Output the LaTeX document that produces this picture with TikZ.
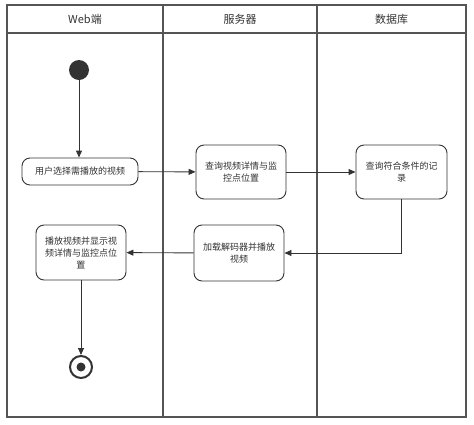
\documentclass[tikz,border=0pt]{standalone}
\usepackage{fontspec}
\usepackage{xcolor}
\usepackage{tikz}
\usetikzlibrary{arrows.meta,positioning}
\newfontfamily\cjk{Noto Sans CJK SC}
\definecolor{linegray}{HTML}{333333}
\definecolor{framegray}{HTML}{555555}

\begin{document}
\begin{tikzpicture}[x=1pt,y=-1pt,inner sep=0pt,
  act/.style={draw=linegray,line width=0.9pt,rounded corners=8pt,fill=white,align=center,
    font=\cjk\fontsize{9}{12}\selectfont,text=linegray},
  lane/.style={draw=framegray,line width=1.2pt},
  head/.style={font=\cjk\fontsize{11}{13}\selectfont,text=linegray},
  flow/.style={-{Triangle[width=6pt,length=7pt]},draw=linegray,line width=0.9pt}]
\useasboundingbox (0,0) rectangle (474,424);
% swimlanes
\draw[lane] (7,5) rectangle (466,417);
\draw[lane] (7,33) -- (466,33);
\draw[lane] (163,5) -- (163,417);
\draw[lane] (317,5) -- (317,417);
\node[head] (webhead) at (85,19) {Web端};
\node[head] (srvhead) at (240,19) {服务器};
\node[head] (dbhead) at (391.5,19) {数据库};

\node[circle,fill=linegray,minimum size=20pt] (start) at (79,70) {};
\node[act,minimum width=116pt,minimum height=27pt] (choose) at (80,171.5) {用户选择需播放的视频};
\node[act,minimum width=90pt,minimum height=54pt,text width=80pt] (query) at (241,172) {查询视频详情与监\\控点位置};
\node[act,minimum width=91pt,minimum height=54pt,text width=80pt] (record) at (401.5,172) {查询符合条件的记\\录};
\node[act,minimum width=90pt,minimum height=56pt,text width=80pt] (decode) at (239,253) {加载解码器并播放\\视频};
\node[act,minimum width=90pt,minimum height=55pt,text width=80pt] (play) at (81,252.5) {播放视频并显示视\\频详情与监控点位\\置};
\node[circle,draw=linegray,line width=2pt,minimum size=22pt] (stop) at (81,367) {};
\node[circle,fill=linegray,minimum size=9pt] (stopdot) at (stop) {};

\draw[flow] (start) -- (start |- choose.north);
\draw[flow] (choose) -- (query);
\draw[flow] (query) -- (record);
\draw[flow] (record.south) |- (decode.east);
\draw[flow] (decode) -- (play);
\draw[flow] (play.south -| stop) -- (stop);
\end{tikzpicture}
\end{document}
